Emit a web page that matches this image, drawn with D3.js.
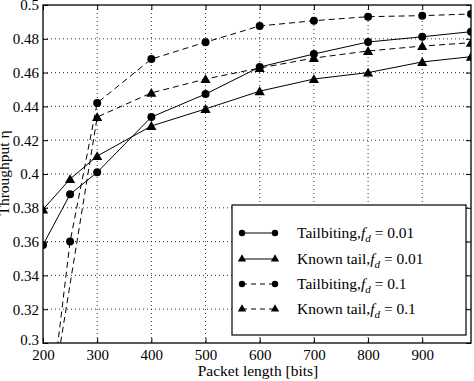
<!DOCTYPE html>
<html>
<head>
<meta charset="utf-8">
<script src="https://cdn.jsdelivr.net/npm/d3@7"></script>
<style>
  html, body { margin: 0; padding: 0; background: #fff; }
  svg { display: block; }
  text { font-family: "Liberation Serif", "Times New Roman", serif; fill: #000; }
</style>
</head>
<body>
<svg id="chart" width="474" height="381"></svg>
<script>
// ---- data ----
const packetLength = [200, 250, 300, 400, 500, 600, 700, 800, 900, 990];
const tailbiting001 = [0.358, 0.388, 0.401, 0.4337, 0.4473, 0.4633, 0.471, 0.4781, 0.4812, 0.4842];
const knownTail001 = [0.379, 0.397, 0.4106, 0.4284, 0.4385, 0.449, 0.4562, 0.460, 0.4663, 0.4694];
const tailbiting01 = [0.227, 0.360, 0.442, 0.468, 0.478, 0.4876, 0.4907, 0.4931, 0.4937, 0.4947];
const knownTail01 = [0.236, null, 0.4337, 0.448, 0.4562, 0.4627, 0.4686, 0.4728, 0.4757, 0.4777];
const xTicks = [200, 300, 400, 500, 600, 700, 800, 900];
const yTicks = [0.3, 0.32, 0.34, 0.36, 0.38, 0.4, 0.42, 0.44, 0.46, 0.48, 0.5];
const yTickLabels = ["0.3", "0.32", "0.34", "0.36", "0.38", "0.4", "0.42", "0.44", "0.46", "0.48", "0.5"];
const seriesNames = ["Tailbiting,", "Known tail,", "Tailbiting,", "Known tail,"];
const seriesFd = ["0.01", "0.01", "0.1", "0.1"];

const series = [
  { values: tailbiting001, marker: "circle", dashed: false },
  { values: knownTail001, marker: "triangle", dashed: false },
  { values: tailbiting01, marker: "circle", dashed: true },
  { values: knownTail01, marker: "triangle", dashed: true }
];

// ---- layout ----
const L = 43, R = 471, T = 5, B = 343;
const svg = d3.select("#chart");
const x = d3.scaleLinear().domain([200, 990]).range([L, R]);
const y = d3.scaleLinear().domain([0.3, 0.5]).range([B, T]);

svg.append("defs").append("clipPath").attr("id", "plotclip")
  .append("rect").attr("x", L).attr("y", T).attr("width", R - L).attr("height", B - T);

// grid
const grid = svg.append("g");
grid.selectAll(".gx").data(xTicks.filter(d => d > 200)).enter().append("line")
  .attr("x1", d => x(d)).attr("x2", d => x(d)).attr("y1", T).attr("y2", B)
  .attr("stroke", "#000").attr("stroke-width", 0.8).attr("stroke-dasharray", "1,3");
grid.selectAll(".gy").data(yTicks.filter(d => d > 0.3 && d < 0.5)).enter().append("line")
  .attr("x1", L).attr("x2", R).attr("y1", d => y(d)).attr("y2", d => y(d))
  .attr("stroke", "#000").attr("stroke-width", 0.8).attr("stroke-dasharray", "1,3");

// axes (ticks inward)
const axB = d3.axisBottom(x).tickValues(xTicks).tickSize(-5).tickPadding(6).tickFormat(d3.format("d"));
const axT = d3.axisTop(x).tickValues(xTicks).tickSize(-5).tickFormat("");
const axL = d3.axisLeft(y).tickValues(yTicks).tickSize(-5).tickPadding(4).tickFormat((d, i) => yTickLabels[i]);
const axR = d3.axisRight(y).tickValues(yTicks).tickSize(-5).tickFormat("");

function styleAxis(g) {
  g.select(".domain").remove();
  g.selectAll("line").attr("stroke", "#000").attr("stroke-width", 1);
  g.selectAll("text").attr("font-size", 15).attr("font-family", "Liberation Serif, serif");
}
svg.append("g").attr("transform", `translate(0,${B})`).call(axB).call(styleAxis);
svg.append("g").attr("transform", `translate(0,${T})`).call(axT).call(styleAxis);
const gL = svg.append("g").attr("transform", `translate(${L},0)`).call(axL).call(styleAxis);
// bottom y label sits slightly raised, as in the reference
gL.selectAll(".tick text").filter(d => d === 0.3).attr("dy", "0.1em");
svg.append("g").attr("transform", `translate(${R},0)`).call(axR).call(styleAxis);

// frame
svg.append("rect").attr("x", L).attr("y", T).attr("width", R - L).attr("height", B - T)
  .attr("fill", "none").attr("stroke", "#000").attr("stroke-width", 1.3);

// series
const plot = svg.append("g").attr("clip-path", "url(#plotclip)");
const line = d3.line().x(d => x(d[0])).y(d => y(d[1]));
const triPath = d3.symbol().type(d3.symbolTriangle).size(45)();

series.forEach(s => {
  const pts = packetLength.map((p, i) => [p, s.values[i]]).filter(d => d[1] !== null);
  plot.append("path").datum(pts).attr("d", line)
    .attr("fill", "none").attr("stroke", "#000").attr("stroke-width", 1)
    .attr("stroke-dasharray", s.dashed ? "6,4" : null);
  const m = plot.selectAll(null).data(pts).enter();
  if (s.marker === "circle") {
    m.append("circle").attr("cx", d => x(d[0])).attr("cy", d => y(d[1])).attr("r", 4).attr("fill", "#000");
  } else {
    m.append("path").attr("d", triPath)
      .attr("transform", d => `translate(${x(d[0])},${y(d[1]) + 1})`).attr("fill", "#000");
  }
});

// axis labels
svg.append("text").attr("x", 258).attr("y", 376).attr("text-anchor", "middle")
  .attr("font-size", 15.5).text("Packet length [bits]");
svg.append("text").attr("transform", "translate(9,173) rotate(-90)").attr("text-anchor", "middle")
  .attr("font-size", 15.5).text("Throughput η");

// legend
const lg = svg.append("g");
lg.append("rect").attr("x", 232).attr("y", 205).attr("width", 234).attr("height", 130)
  .attr("fill", "#fff").attr("stroke", "#000").attr("stroke-width", 1.2);
const rowY = [233, 259, 284, 309];
series.forEach((s, i) => {
  const yy = rowY[i];
  lg.append("line").attr("x1", 242).attr("x2", 275).attr("y1", yy).attr("y2", yy)
    .attr("stroke", "#000").attr("stroke-width", 1)
    .attr("stroke-dasharray", s.dashed ? "5,4" : null);
  [242, 275].forEach(xx => {
    if (s.marker === "circle") {
      lg.append("circle").attr("cx", xx).attr("cy", yy).attr("r", 3.2).attr("fill", "#000");
    } else {
      lg.append("path").attr("d", d3.symbol().type(d3.symbolTriangle).size(30)())
        .attr("transform", `translate(${xx},${yy})`).attr("fill", "#000");
    }
  });
  const t = lg.append("text").attr("x", 297).attr("y", yy + 5).attr("font-size", 15.5);
  t.append("tspan").text(seriesNames[i]);
  t.append("tspan").attr("font-style", "italic").text("f");
  t.append("tspan").attr("font-style", "italic").attr("font-size", 11).attr("dy", 4).text("d");
  t.append("tspan").attr("dy", -4).text(" = " + seriesFd[i]);
});
</script>
</body>
</html>
